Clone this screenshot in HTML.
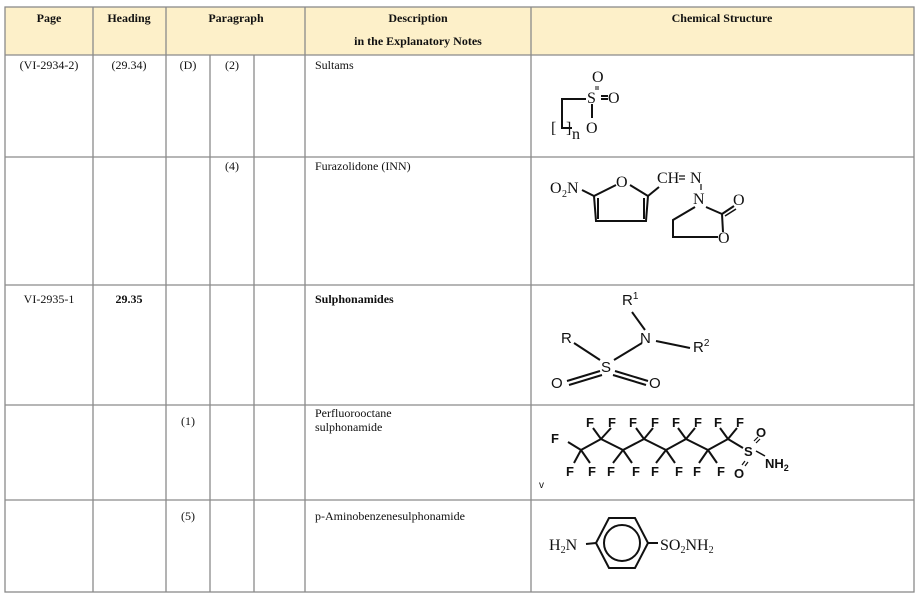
<!DOCTYPE html>
<html><head><meta charset="utf-8"><style>
html,body{margin:0;padding:0;background:#fff;}
svg{display:block;}
text{font-family:"Liberation Serif",serif;fill:#111;}
.a text,text.a{font-family:"Liberation Sans",sans-serif;}
.h{font-weight:bold;font-size:12px;}
.t{font-size:12px;}
.c{font-size:16px;}
</style></head><body>
<svg width="919" height="598" viewBox="0 0 919 598">
<rect x="5" y="7" width="909" height="48" fill="#fdf0c9"/>
<g stroke="#8a8a8a" stroke-width="1.3" fill="none">
<rect x="5" y="7" width="909" height="585"/>
<line x1="5" y1="55" x2="914" y2="55"/>
<line x1="5" y1="157" x2="914" y2="157"/>
<line x1="5" y1="285" x2="914" y2="285"/>
<line x1="5" y1="405" x2="914" y2="405"/>
<line x1="5" y1="500" x2="914" y2="500"/>
<line x1="93" y1="7" x2="93" y2="592"/>
<line x1="166" y1="7" x2="166" y2="592"/>
<line x1="210" y1="55" x2="210" y2="592"/>
<line x1="254" y1="55" x2="254" y2="592"/>
<line x1="305" y1="7" x2="305" y2="592"/>
<line x1="531" y1="7" x2="531" y2="592"/>
</g>
<g class="h" text-anchor="middle">
<text x="49" y="22">Page</text>
<text x="129" y="22">Heading</text>
<text x="236" y="22">Paragraph</text>
<text x="418" y="22">Description</text>
<text x="418" y="45">in the Explanatory Notes</text>
<text x="722" y="22">Chemical Structure</text>
</g>
<g class="t">
<text x="49" y="69" text-anchor="middle">(VI-2934-2)</text>
<text x="129" y="69" text-anchor="middle">(29.34)</text>
<text x="188" y="69" text-anchor="middle">(D)</text>
<text x="232" y="69" text-anchor="middle">(2)</text>
<text x="315" y="69">Sultams</text>
<text x="232" y="170" text-anchor="middle">(4)</text>
<text x="315" y="170">Furazolidone (INN)</text>
<text x="49" y="303" text-anchor="middle">VI-2935-1</text>
<text x="129" y="303" text-anchor="middle" font-weight="bold">29.35</text>
<text x="315" y="303" font-weight="bold">Sulphonamides</text>
<text x="188" y="425" text-anchor="middle">(1)</text>
<text x="315" y="417">Perfluorooctane</text>
<text x="315" y="431">sulphonamide</text>
<text x="188" y="520" text-anchor="middle">(5)</text>
<text x="315" y="520">p-Aminobenzenesulphonamide</text>
</g>
<!-- Sultam -->
<g stroke="#111" stroke-width="2" fill="none">
<path d="M586 99 H562 V128 H572"/>
<line x1="592" y1="104" x2="592" y2="118"/>
<line x1="601" y1="96" x2="608" y2="96"/><line x1="601" y1="99" x2="608" y2="99"/>
<line x1="596" y1="86" x2="596" y2="90" stroke-width="1"/><line x1="598" y1="86" x2="598" y2="90" stroke-width="1"/>
</g>
<g class="c">
<text x="592" y="82">O</text>
<text x="587" y="103">S</text>
<text x="608" y="103">O</text>
<text x="586" y="133">O</text>
<text x="551" y="133">[</text><text x="566" y="133">]</text><text x="572" y="139">n</text>
</g>
<!-- Furazolidone -->
<g stroke="#111" stroke-width="2" fill="none">
<path d="M582 190 L594 196 L616 185 M630 185 L648 196 L646 221 L596 221 L594 196"/>
<line x1="598" y1="198" x2="598" y2="219"/><line x1="644" y1="198" x2="644" y2="219"/>
<line x1="648" y1="196" x2="659" y2="187"/>
<line x1="701" y1="184" x2="701" y2="190" stroke-width="1.2"/>
<path d="M695 207 L673 220 V237 H718 M706 207 L722 214 L723 232 M722 214 L734 206"/>
<line x1="725" y1="216" x2="736" y2="209" stroke-width="1.5"/>
<line x1="679" y1="176" x2="685" y2="176" stroke-width="1.2"/><line x1="679" y1="179" x2="685" y2="179" stroke-width="1.2"/>
</g>
<g class="c">
<text x="550" y="193">O</text><text x="562" y="197" font-size="10">2</text><text x="567" y="193">N</text>
<text x="616" y="187">O</text>
<text x="657" y="183">CH</text>
<text x="690" y="183">N</text>
<text x="693" y="204">N</text>
<text x="733" y="205">O</text>
<text x="718" y="243">O</text>
</g>
<!-- Sulphonamide -->
<g stroke="#111" stroke-width="2" fill="none">
<path d="M574 343 L600 360 M614 360 L642 343 M632 312 L645 330 M656 341 L690 348"/>
<path d="M600 371 L567 381 M602 375 L569 385 M615 371 L648 381 M613 375 L646 385"/>
</g>
<g class="a" style="font-size:15px">
<text x="622" y="305">R<tspan font-size="10" dy="-6">1</tspan></text>
<text x="640" y="343">N</text>
<text x="693" y="352">R<tspan font-size="10" dy="-6">2</tspan></text>
<text x="561" y="343">R</text>
<text x="601" y="372">S</text>
<text x="551" y="388">O</text>
<text x="649" y="388">O</text>
</g>
<!-- Perfluoro -->
<g stroke="#111" stroke-width="2" fill="none">
<path d="M581 450 L601 439 L623 450 L644 439 L666 450 L686 439 L708 450 L728 439 L743 448"/>
<path d="M568 442 L581 450 M601 439 L593 428 M601 439 L611 428 M623 450 L613 463 M623 450 L632 463 M644 439 L636 428 M644 439 L653 428 M666 450 L656 463 M666 450 L675 463 M686 439 L678 428 M686 439 L695 428 M708 450 L699 463 M708 450 L717 463 M728 439 L720 428 M728 439 L737 428 M581 450 L574 463 M581 450 L590 463"/>
<path d="M756 451 L765 456" stroke-width="1.5"/>
<path d="M754 441 L758 437 M756 443 L760 439 M745 461 L742 465 M748 462 L745 466" stroke-width="1.2"/>
</g>
<g class="a" style="font-size:13px;font-weight:bold">
<text x="551" y="443">F</text>
<text x="586" y="427">F</text><text x="608" y="427">F</text><text x="629" y="427">F</text><text x="651" y="427">F</text>
<text x="672" y="427">F</text><text x="694" y="427">F</text><text x="714" y="427">F</text><text x="736" y="427">F</text>
<text x="566" y="476">F</text><text x="588" y="476">F</text><text x="607" y="476">F</text><text x="632" y="476">F</text>
<text x="651" y="476">F</text><text x="675" y="476">F</text><text x="693" y="476">F</text><text x="717" y="476">F</text>
<text x="756" y="437">O</text><text x="744" y="456">S</text><text x="734" y="478">O</text>
<text x="765" y="468">NH<tspan font-size="9" dy="3">2</tspan></text>
</g>
<text x="539" y="488" class="a" style="font-size:10px" fill="#555">v</text>
<!-- Benzene -->
<g stroke="#111" stroke-width="2" fill="none">
<polygon points="609,518 635,518 648,543 635,568 609,568 596,543"/>
<circle cx="622" cy="543" r="18"/>
<line x1="586" y1="544" x2="596" y2="543"/><line x1="648" y1="543" x2="658" y2="543"/>
</g>
<g class="c">
<text x="549" y="550">H<tspan font-size="10" dy="3">2</tspan><tspan dy="-3">N</tspan></text>
<text x="660" y="550">SO<tspan font-size="10" dy="3">2</tspan><tspan dy="-3">NH</tspan><tspan font-size="10" dy="3">2</tspan></text>
</g>
</svg>
</body></html>
